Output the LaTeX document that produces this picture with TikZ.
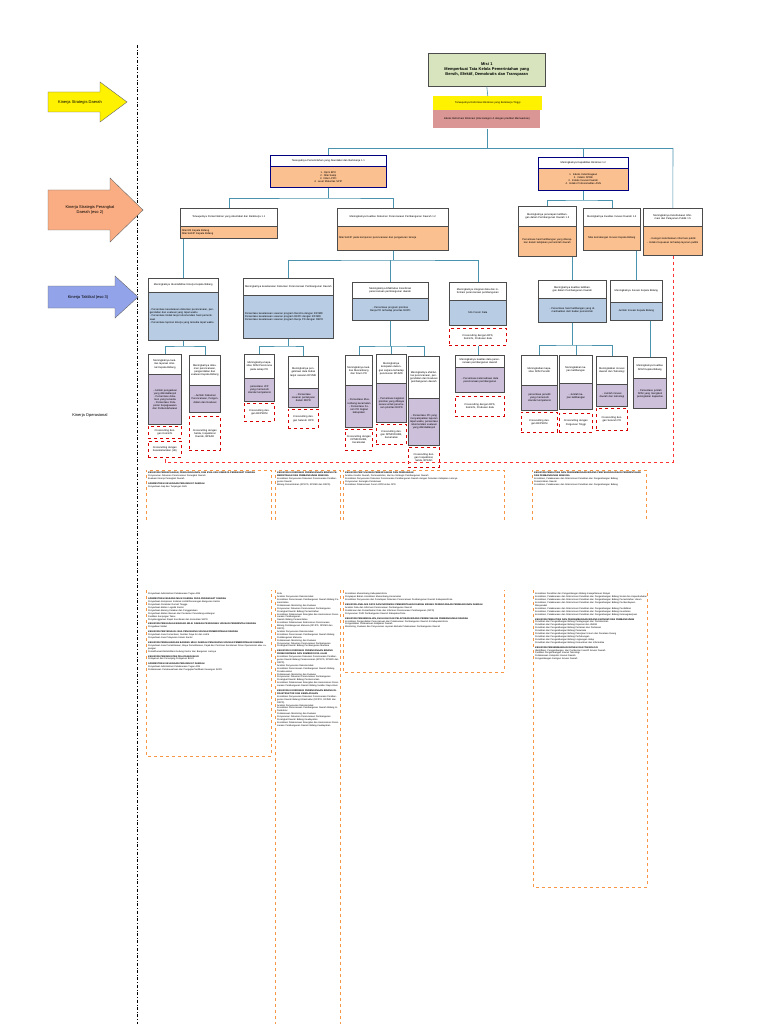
\documentclass[tikz,border=0pt]{standalone}
\usepackage{fontspec}
\setmainfont{Liberation Sans}
\definecolor{lorange}{HTML}{FAC090}
\definecolor{lblue}{HTML}{B8CCE4}
\definecolor{lpurple}{HTML}{CCC0DA}
\definecolor{lgreen}{HTML}{D7E4BD}
\definecolor{lpink}{HTML}{D99694}
\definecolor{teal}{HTML}{4A93AE}
\definecolor{ored}{HTML}{F79646}
\tikzset{
 base/.style={draw=black!70,line width=0.6pt,inner sep=1pt,align=center,font=\fontsize{2.6}{3.1}\selectfont},
 wbox/.style={base,fill=white},
 obox/.style={base,fill=lorange},
 bbox/.style={base,fill=lblue},
 pbox/.style={base,fill=lpurple,line width=1pt},
 rbox/.style={base,draw=red!85!black,dashed,line width=0.7pt,fill=white},
 conn/.style={draw=teal,line width=0.6pt},
 rconn/.style={draw=red!80,dashed,line width=0.5pt},
 lst/.style={inner sep=1pt,anchor=north west,align=left,font=\fontsize{2.3}{2.9}\selectfont},
}
\newcommand\bx[7]{\pgfmathsetmacro\bw{#5-#3}\pgfmathsetmacro\bh{#6-#4}\pgfmathsetmacro\tw{#5-#3-3}%
\node[#2,anchor=north west,minimum width=\bw pt,minimum height=\bh pt,text width=\tw pt] (#1) at (#3,#4) {#7};}
\begin{document}
\begin{tikzpicture}[x=1pt,y=-1pt]
\useasboundingbox (0,0) rectangle (768,1024);
\fill[white] (0,0) rectangle (768,1024);
% separator
\draw[black,dash dot,line width=0.9pt] (137,45) -- (137,1024);
% left arrows
\draw[black!60,fill=yellow] (48,92) -- (100,92) -- (100,82) -- (127,102) -- (100,122) -- (100,112) -- (48,112) -- cycle;
\node[font=\fontsize{4}{5}\selectfont] (k1) at (80,102) {Kinerja Strategis Daerah};
\draw[black!60,fill=lorange!90!red] (48,190) -- (110,190) -- (110,178) -- (143,210) -- (110,242) -- (110,230) -- (48,230) -- cycle;
\node[font=\fontsize{4}{5}\selectfont,align=center] (k2) at (90,210) {Kinerja Strategis Perangkat\\Daerah (eso 2)};
\draw[black!60,fill=lblue!80!blue] (48,286) -- (115,286) -- (115,276) -- (138,297) -- (115,318) -- (115,308) -- (48,308) -- cycle;
\node[font=\fontsize{4}{5}\selectfont] (k3) at (88,297) {Kinerja Taktikal (eso 3)};
\node[font=\fontsize{4}{5}\selectfont] (k4) at (90,415) {Kinerja Operasional};
% top
\bx{misi}{base,fill=lgreen,font=\bfseries\fontsize{4}{5}\selectfont}{428}{53}{545}{86}{Misi 1\\Memperkuat Tata Kelola Pemerintahan yang Bersih, Efektif, Demokratis dan Transparan}
\bx{tuj}{base,fill=yellow,draw=none}{433}{96}{542}{110}{Terwujudnya Reformasi Birokrasi yang Berkinerja Tinggi}
\bx{ind}{base,fill=lpink,draw=none}{433}{110}{540}{128}{Indeks Reformasi Birokrasi (nilai kategori A dengan predikat Memuaskan)}
\bx{s1}{wbox,draw=blue!50!black}{270}{155}{386}{166}{Terwujudnya Pemerintahan yang Akuntabel dan Berkinerja 1.1}
\bx{s1i}{obox,draw=blue!50!black}{270}{166}{386}{187}{1. Opini BPK\\2. Nilai Sakip\\3. Nilai LPPD\\4. Level Maturitas SPIP}
\bx{s2}{wbox,draw=blue!50!black}{538}{157}{628}{168}{Meningkatnya Kapabilitas Birokrasi 1.2}
\bx{s2i}{obox,draw=blue!50!black}{538}{168}{628}{190}{1. Indeks Kelembagaan\\2. Indeks SPBE\\3. Indeks Inovasi Daerah\\4. Indeks Profesionalitas ASN}
\draw[conn] (misi.south) -- (tuj.north);
\draw[conn] (ind.south) -- (ind.south |- 0,148);
\draw[conn] (s1.north) -- (s1.north |- 0,148) -- (673,148) coordinate (rt);
\draw[conn] (s2.north) -- (s2.north |- 0,148);
% level 2
\bx{A}{wbox}{180}{208}{277}{226}{Terwujudnya Pemerintahan yang Akuntabel dan Berkinerja 1.1}
\bx{Ai}{obox,align=left}{180}{226}{277}{238}{Nilai RB Kepala Bidang\\Nilai SAKIP Kepala Bidang}
\bx{B}{wbox}{337}{208}{448}{226}{Meningkatnya Kualitas Dokumen Perencanaan Pembangunan Daerah 1.2}
\bx{Bi}{obox,align=left}{337}{226}{448}{250}{Nilai SAKIP pada komponen perencanaan dan pengukuran kinerja}
\bx{C}{wbox}{518}{206}{576}{226}{Meningkatnya penerapan kelitbangan dalam Pembangunan Daerah 1.3}
\bx{Ci}{obox}{518}{226}{576}{256}{Persentase hasil kelitbangan yang diterapkan dalam kebijakan pemerintah daerah}
\bx{D}{wbox}{583}{208}{640}{226}{Meningkatnya Kualitas Inovasi Daerah 1.4}
\bx{Di}{obox}{583}{226}{640}{250}{Nilai kematangan Inovasi Kepala Bidang}
\bx{E}{wbox}{643}{208}{702}{226}{Meningkatnya Keterbukaan Informasi dan Pelayanan Publik 1.5}
\bx{Ei}{obox}{643}{226}{702}{255}{- Kategori keterbukaan informasi publik\\- Indeks Kepuasan terhadap layanan publik}
\draw[conn] (s1i.south) -- (s1i.south |- 0,198) coordinate (j1);
\draw[conn] (A.north) |- (j1) -| (B.north);
\draw[conn] (s2i.south) -- (s2i.south |- 0,200) coordinate (j2);
\draw[conn] (C.north) |- (j2) -| (D.north);
\draw[conn] (rt) -- (E.north);
% level 3
\bx{F}{wbox}{148}{278}{218}{292}{Meningkatnya Akuntabilitas Kinerja Kepala Bidang}
\bx{Fi}{bbox,align=left}{148}{292}{218}{340}{- Persentase keselarasan dokumen perencanaan, pengendalian dan evaluasi yang tepat waktu\\- Persentase tindak lanjut rekomendasi hasil pemeriksaan\\- Persentase laporan kinerja yang tersedia tepat waktu}
\bx{G}{wbox}{243}{278}{333}{295}{Meningkatnya keselarasan Dokumen Perencanaan Pembangunan Daerah}
\bx{Gi}{bbox,align=left}{243}{295}{333}{338}{Persentase keselarasan sasaran program Renstra dengan RPJMD\\Persentase keselarasan sasaran program RKPD dengan RPJMD\\Persentase keselarasan sasaran program Renja PD dengan RKPD}
\bx{H}{wbox}{352}{282}{428}{298}{Meningkatnya Efektivitas Koordinasi perencanaan pembangunan daerah}
\bx{Hi}{bbox}{352}{298}{428}{320}{- Persentase program prioritas Renja PD terhadap prioritas RKPD}
\bx{I}{wbox}{449}{282}{506}{300}{Meningkatnya integrasi data dan informasi perencanaan pembangunan}
\bx{Ii}{bbox}{449}{300}{506}{325}{SIG Forum Data}
\bx{Ir}{rbox}{449}{328}{506}{345}{Crosscutting dengan BPS, Kominfo, Produsen data}
\bx{J}{wbox}{538}{280}{606}{298}{Meningkatnya kualitas kelitbangan dalam Pembangunan Daerah}
\bx{Ji}{bbox}{538}{298}{606}{322}{- Persentase hasil kelitbangan yang dimanfaatkan oleh badan pemerintah}
\bx{K}{wbox}{610}{280}{662}{302}{Meningkatnya Inovasi Kepala Bidang}
\bx{Ki}{bbox}{610}{302}{662}{320}{Jumlah Inovasi Kepala Bidang}
\draw[conn] (Ai.south -| F.north) -- (F.north);
\draw[conn] (Bi.south) -- (Bi.south |- 0,260) coordinate (j3);
\draw[conn] (G.north) |- (j3) -| (I.north);
\draw[conn] (H.north) -- (H.north |- j3);
\draw[conn] (Ci.south -| J.north) -- (J.north);
\draw[conn] (Di.south -| K.north) -- (K.north);
% level 4
\bx{a1}{wbox}{148}{354}{181}{374}{Meningkatnya kualitas layanan internal Kepala Bidang}
\bx{a1i}{pbox}{148}{374}{181}{424}{- Jumlah pengaduan yang ditindaklanjuti\\- Persentase dokumen yang tersedia\\- Persentase Pelaporan Kepegawaian dan Perbendaharaan}
\bx{a1r}{rbox}{148}{426}{181}{438}{Crosscutting dengan Kominfo}
\bx{a1s}{rbox}{148}{441}{181}{457}{Crosscutting dengan Kesekretariatan (LB)}
\bx{a2}{wbox}{189}{355}{220}{385}{Meningkatnya dokumen perencanaan, pengendalian dan evaluasi Kepala Bidang}
\bx{a2i}{pbox}{189}{385}{220}{412}{- Jumlah Dokumen Perencanaan, Pengendalian dan Evaluasi}
\bx{a2r}{rbox}{189}{416}{220}{450}{Crosscutting dengan Setda, Inspektorat Daerah, BPKAD}
\bx{a3}{wbox}{244}{354}{274}{378}{Meningkatnya kapasitas SDM Perencana pada setiap PD}
\bx{a3i}{pbox}{244}{378}{274}{401}{persentase JFP yang memenuhi standar kompetensi}
\bx{a3r}{rbox}{244}{403}{274}{421}{Crosscutting dengan BKPSDM}
\bx{a4}{wbox}{288}{356}{318}{388}{Meningkatnya pengelolaan data tindak lanjut sasaran RPJMD}
\bx{a4i}{pbox}{288}{388}{318}{407}{- Persentase sasaran pertanyaan dalam RKPD}
\bx{a4r}{rbox}{288}{409}{318}{428}{Crosscutting dengan Seluruh OPD}
\bx{a5}{wbox}{345}{355}{372}{385}{Meningkatnya kualitas Musrenbang dan forum PD}
\bx{a5i}{pbox}{345}{385}{372}{427}{- Persentase Musrenbang kecamatan\\- Persentase Forum PD tingkat kabupaten}
\bx{a5r}{rbox}{345}{429}{372}{450}{Crosscutting dengan DPMD/DUKB, Kecamatan}
\bx{a6}{wbox}{376}{354}{406}{383}{Meningkatnya ketepatan dukungan sarjana terhadap perumusan RPJMD}
\bx{a6i}{pbox}{376}{383}{406}{422}{- Persentase kegiatan prioritas yang dibiayai sesuai untuk perumusan prioritas RKPD}
\bx{a6r}{rbox}{376}{424}{406}{444}{Crosscutting dengan DPMD/DUKB, Kecamatan}
\bx{a7}{wbox}{408}{356}{439}{398}{Meningkatnya efektivitas perencanaan, pengendalian dan Evaluasi pembangunan daerah}
\bx{a7i}{pbox}{408}{398}{439}{445}{- Persentase PD yang menyampaikan laporan tepat waktu, persentase rekomendasi evaluasi yang ditindaklanjuti}
\bx{a7r}{rbox}{408}{447}{439}{467}{Crosscutting dengan Inspektorat, Setda, BPKAD}
\bx{a8}{wbox}{455}{355}{504}{367}{Meningkatnya kualitas data perencanaan pembangunan daerah}
\bx{a8i}{pbox}{455}{367}{504}{392}{- Persentase ketersediaan data perencanaan pembangunan}
\bx{a8r}{rbox}{455}{396}{504}{416}{Crosscutting dengan BPS, Kominfo, Produsen data}
\bx{a9}{wbox}{521}{355}{557}{385}{Meningkatkan kapasitas SDM Peneliti}
\bx{a9i}{pbox}{521}{385}{557}{410}{persentase peneliti yang memenuhi standar kompetensi}
\bx{a9r}{rbox}{521}{412}{557}{432}{Crosscutting dengan BKPSDM}
\bx{a10}{wbox}{559}{355}{592}{383}{Meningkatkan kajian kelitbangan}
\bx{a10i}{pbox}{559}{383}{592}{409}{- Jumlah kajian kelitbangan}
\bx{a10r}{rbox}{559}{413}{592}{432}{Crosscutting dengan Perguruan Tinggi}
\bx{a11}{wbox}{596}{356}{627}{384}{Meningkatkan inovasi daerah dan Teknologi}
\bx{a11i}{pbox}{596}{384}{627}{406}{- Jumlah inovasi daerah dan teknologi}
\bx{a11r}{rbox}{596}{408}{627}{430}{Crosscutting dengan Seluruh PD}
\bx{a12}{wbox}{633}{357}{666}{378}{Meningkatnya Kualitas SDM Kepala Bidang}
\bx{a12i}{pbox}{633}{378}{666}{408}{- Persentase jumlah SDM yang mengikuti peningkatan kapasitas}
\draw[conn] (Fi.south) -- (Fi.south |- 0,346) coordinate (j4);
\draw[conn] (a1.north) |- (j4) -| (a2.north);
\draw[conn] (Gi.south) -- (Gi.south |- 0,346) coordinate (j5);
\draw[conn] (a3.north) |- (j5) -| (a4.north);
\draw[conn] (Hi.south) -- (Hi.south |- 0,346) coordinate (j6);
\draw[conn] (a5.north) |- (j6) -| (a7.north);
\draw[conn] (a6.north) -- (a6.north |- j6);
\draw[conn] (Ir.south) -- (a8.north -| Ir.south);
\draw[conn] (Ji.south) -- (Ji.south |- 0,345) coordinate (j7);
\draw[conn] (a9.north) |- (j7) -| (a11.north);
\draw[conn] (a10.north) -- (a10.north |- j7);
\draw[conn] (Ki.south -| a12.north) -- (a12.north);
\draw[rconn] (Ei.south) -- (Ei.south |- 0,462) -| (a1s.south);
% bottom list boxes (top part)
\tikzset{obd/.style={draw=ored,dashed,line width=0.9pt}}
\draw[obd] (146,520) -- (146,470) -- (271,470) -- (271,520);
\draw[obd] (275,520) -- (275,470) -- (340,470) -- (340,520);
\draw[obd] (343,520) -- (343,470) -- (504,470) -- (504,520);
\draw[obd] (532,520) -- (532,470) -- (646,470) -- (646,520);
\node[lst,text width=120pt] (t1) at (147,471) {\textbf{KEGIATAN PERENCANAAN, PENGANGGARAN, DAN EVALUASI KINERJA PERANGKAT DAERAH}\\Penyusunan Dokumen Perencanaan Perangkat Daerah\\Evaluasi Kinerja Perangkat Daerah\\[2pt]\textbf{ADMINISTRASI KEUANGAN PERANGKAT DAERAH}\\Penyediaan Gaji dan Tunjangan ASN};
\node[lst,text width=62pt] (t2) at (276,471) {\textbf{KEGIATAN KOORDINASI PERENCANAAN BIDANG PEMERINTAHAN DAN PEMBANGUNAN MANUSIA}\\Koordinasi Penyusunan Dokumen Perencanaan Pembangunan Daerah\\Bidang Pemerintahan (RPJPD, RPJMD dan RKPD)};
\node[lst,text width=158pt] (t3) at (344,471) {\textbf{KEGIATAN PENYUSUNAN PERENCANAAN DAN PENDANAAN}\\Analisa Kondisi Daerah, Permasalahan, dan Isu Strategis Pembangunan Daerah\\Koordinasi Penyusunan Dokumen Perencanaan Pembangunan Daerah dengan Dokumen Kebijakan Lainnya\\Penyusunan Kerangka Pendanaan\\Koordinasi Pelaksanaan Forum OPD/Lintas OPD};
\node[lst,text width=112pt] (t4) at (533,471) {\textbf{KEGIATAN PENELITIAN DAN PENGEMBANGAN BIDANG PENYELENGGARAAN PEMERINTAHAN DAN PEMBANGUNAN MANUSIA}\\Koordinasi, Pelaksanaan dan Sinkronisasi Penelitian dan Pengembangan Bidang\\Pemerintahan Daerah\\Koordinasi, Pelaksanaan dan Sinkronisasi Penelitian dan Pengembangan Bidang};
% bottom list boxes (lower part)
\draw[obd] (146,590) -- (146,756) -- (271,756) -- (271,590);
\draw[obd] (275,590) -- (275,1024);
\draw[obd] (340,590) -- (340,1024);
\draw[obd] (343,590) -- (343,672) -- (504,672) -- (504,590);
\draw[obd] (533,590) -- (533,887) -- (647,887) -- (647,590);
\node[lst,text width=120pt] (u1) at (147,592) {Penyediaan Administrasi Pelaksanaan Tugas ASN\\[2pt]\textbf{ADMINISTRASI BARANG MILIK DAERAH PADA PERANGKAT DAERAH}\\Penyediaan Komponen Instalasi Listrik/Penerangan Bangunan Kantor\\Penyediaan Peralatan Rumah Tangga\\Penyediaan Bahan Logistik Kantor\\Penyediaan Barang Cetakan dan Penggandaan\\Penyediaan Bahan Bacaan dan Peraturan Perundang-undangan\\Fasilitasi Kunjungan Tamu\\Penyelenggaraan Rapat Koordinasi dan Konsultasi SKPD\\[2pt]\textbf{KEGIATAN PENGADAAN BARANG MILIK DAERAH PENUNJANG URUSAN PEMERINTAH DAERAH}\\Pengadaan Mebel\\[2pt]\textbf{KEGIATAN PENYEDIAAN JASA PENUNJANG URUSAN PEMERINTAHAN DAERAH}\\Penyediaan Jasa Komunikasi, Sumber Daya Air dan Listrik\\Penyediaan Jasa Pelayanan Umum Kantor\\[2pt]\textbf{KEGIATAN PEMELIHARAAN BARANG MILIK DAERAH PENUNJANG URUSAN PEMERINTAHAN DAERAH}\\Penyediaan Jasa Pemeliharaan, Biaya Pemeliharaan, Pajak dan Perizinan Kendaraan Dinas Operasional atau Lapangan\\Pemeliharaan/Rehabilitasi Gedung Kantor dan Bangunan Lainnya\\[2pt]\textbf{KEGIATAN PENINGKATAN PELAYANAN BLUD}\\Pelayanan dan Penunjang Pelayanan BLUD\\[2pt]\textbf{ADMINISTRASI KEUANGAN PERANGKAT DAERAH}\\Penyediaan Administrasi Pelaksanaan Tugas ASN\\Pelaksanaan Penatausahaan dan Pengujian/Verifikasi Keuangan SKPD};
\node[lst,text width=62pt] (u2) at (276,592) {Kota\\Analisis Penyusunan Rekomendasi\\Koordinasi Perencanaan Pembangunan Daerah Bidang Pemerintahan\\Pelaksanaan Monitoring dan Evaluasi\\Penyusunan Dokumen Perencanaan Pembangunan Perangkat Daerah Bidang Pemerintahan\\Koordinasi Pelaksanaan Sinergitas dan Harmonisasi Perencanaan Pembangunan\\Daerah Bidang Pemerintahan\\Koordinasi Pelaksanaan Sinkronisasi Perencanaan\\Bidang Pembangunan Manusia (RPJPD, RPJMD dan RKPD)\\Analisis Penyusunan Rekomendasi\\Koordinasi Perencanaan Pembangunan Daerah Bidang Pembangunan Manusia\\Pelaksanaan Monitoring dan Evaluasi\\Penyusunan Dokumen Perencanaan Pembangunan Perangkat Daerah Bidang Pembangunan Manusia\\[2pt]\textbf{KEGIATAN KOORDINASI PERENCANAAN BIDANG PEREKONOMIAN DAN SUMBER DAYA ALAM}\\Koordinasi Penyusunan Dokumen Perencanaan Pembangunan Daerah Bidang Perekonomian (RPJPD, RPJMD dan RKPD)\\Analisis Penyusunan Rekomendasi\\Koordinasi Perencanaan Pembangunan Daerah Bidang Perekonomian\\Pelaksanaan Monitoring dan Evaluasi\\Penyusunan Dokumen Perencanaan Pembangunan Perangkat Daerah Bidang Perekonomian\\Koordinasi Pelaksanaan Sinergitas dan Harmonisasi Perencanaan Pembangunan Daerah Bidang Sumber Daya Alam\\[2pt]\textbf{KEGIATAN KOORDINASI PERENCANAAN BIDANG INFRASTRUKTUR DAN KEWILAYAHAN}\\Koordinasi Penyusunan Dokumen Perencanaan Pembangunan Daerah Bidang Infrastruktur (RPJPD, RPJMD dan RKPD)\\Analisis Penyusunan Rekomendasi\\Koordinasi Perencanaan Pembangunan Daerah Bidang Infrastruktur\\Pelaksanaan Monitoring dan Evaluasi\\Penyusunan Dokumen Perencanaan Pembangunan Perangkat Daerah Bidang Kewilayahan\\Koordinasi Pelaksanaan Sinergitas dan Harmonisasi Perencanaan Pembangunan Daerah Bidang Kewilayahan};
\node[lst,text width=158pt] (u3) at (344,592) {Koordinasi Musrenbang Kabupaten/Kota\\Penyiapan Bahan Koordinasi Musrenbang Kecamatan\\Koordinasi Penyusunan dan Penetapan Dokumen Perencanaan Pembangunan Daerah Kabupaten/Kota\\[2pt]\textbf{KEGIATAN ANALISIS DATA DAN INFORMASI PEMERINTAHAN DAERAH BIDANG PERENCANAAN PEMBANGUNAN DAERAH}\\Analisis Data dan Informasi Perencanaan Pembangunan Daerah\\Pembinaan dan Pemanfaatan Data dan Informasi Perencanaan Pembangunan (SIPD)\\Penyusunan Profil Pembangunan Daerah Kabupaten/Kota\\[2pt]\textbf{KEGIATAN PENGENDALIAN, EVALUASI DAN PELAPORAN BIDANG PERENCANAAN PEMBANGUNAN DAERAH}\\Koordinasi Pengendalian Perencanaan dan Pelaksanaan Pembangunan Daerah di Kabupaten/Kota\\Pengendalian Pelaksanaan Kebijakan Daerah\\Monitoring, Evaluasi dan Penyusunan Laporan Berkala Pelaksanaan Pembangunan Daerah};
\node[lst,text width=112pt] (u4) at (534,592) {Koordinasi Penelitian dan Pengembangan Bidang Kesejahteraan Rakyat\\Koordinasi, Pelaksanaan dan Sinkronisasi Penelitian dan Pengembangan Bidang Sosial dan Kependudukan\\Koordinasi, Pelaksanaan dan Sinkronisasi Penelitian dan Pengembangan Bidang Pemerintahan Umum\\Koordinasi, Pelaksanaan dan Sinkronisasi Penelitian dan Pengembangan Bidang Pemberdayaan Masyarakat\\Koordinasi, Pelaksanaan dan Sinkronisasi Penelitian dan Pengembangan Bidang Pendidikan\\Koordinasi, Pelaksanaan dan Sinkronisasi Penelitian dan Pengembangan Bidang Kesehatan\\Koordinasi, Pelaksanaan dan Sinkronisasi Penelitian dan Pengembangan Bidang Ketenagakerjaan\\[2pt]\textbf{KEGIATAN PENELITIAN DAN PENGEMBANGAN BIDANG EKONOMI DAN PEMBANGUNAN}\\Penelitian dan Pengembangan Bidang Perdagangan dan Perindustrian\\Penelitian dan Pengembangan Bidang Koperasi dan UMKM\\Penelitian dan Pengembangan Bidang Pertanian dan Perikanan\\Penelitian dan Pengembangan Bidang Pariwisata\\Penelitian dan Pengembangan Bidang Pekerjaan Umum dan Penataan Ruang\\Penelitian dan Pengembangan Bidang Perhubungan\\Penelitian dan Pengembangan Bidang Lingkungan Hidup\\Penelitian dan Pengembangan Bidang Komunikasi dan Informatika\\[2pt]\textbf{KEGIATAN PENGEMBANGAN INOVASI DAN TEKNOLOGI}\\Identifikasi, Pengembangan, dan Pemberian Insentif Inovasi Daerah\\Fasilitasi Pengembangan Inovasi Teknologi\\Pelaksanaan Kompetisi Inovasi Daerah\\Pengembangan Jaringan Inovasi Daerah};
\end{tikzpicture}
\end{document}
